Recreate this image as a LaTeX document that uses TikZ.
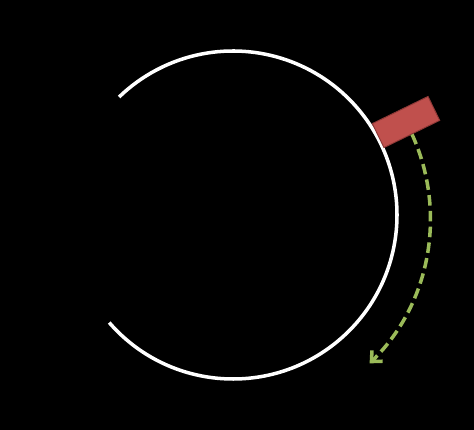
\documentclass[tikz,border=0pt]{standalone}
\usepackage{tikz}
\usetikzlibrary{arrows.meta}

\definecolor{boxred}{HTML}{C0504D}
\definecolor{boxedge}{HTML}{8C3836}
\definecolor{pathgreen}{HTML}{9BBB59}

\begin{document}
\begin{tikzpicture}[
            x=0.03cm, y=0.03cm,
            ring/.style = {draw=white, line width=3pt}, % the open circle
            slider/.style = {draw=boxedge, fill=boxred, line width=0.8pt,
            minimum width=1.86cm, minimum height=0.8cm, inner sep=0pt},
            motion/.style = {draw=pathgreen, line width=3pt,
            dash pattern=on 9pt off 4.5pt, -{Straight Barb[length=7pt, width=13pt]}}
            ]
            % background and frame
            \fill[black] (0,0) rectangle (474,430);
            \useasboundingbox (0,0) rectangle (474,430);

            \coordinate (c) at (233,215);

            % ring with a gap on the left
            \draw[ring] (c) ++(-139:164) arc[start angle=-139, end angle=134, radius=164];

            % the block on the ring
            \node[slider, rotate=26] (box) at (406,308) {};

            % path it moves along
            \draw[motion] (box.south) arc[start angle=24.5, end angle=-45.5, radius=203];
\end{tikzpicture}
\end{document}
